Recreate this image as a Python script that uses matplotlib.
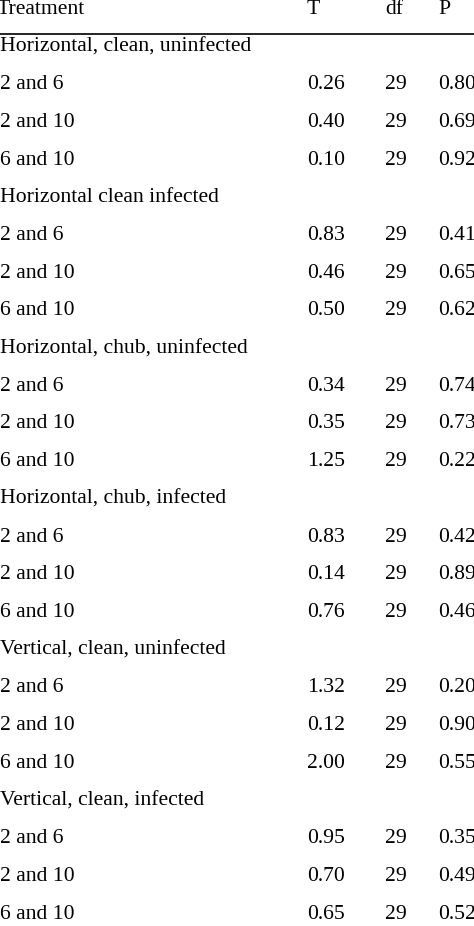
import matplotlib
matplotlib.use("Agg")
import matplotlib.pyplot as plt

W, H = 474, 926
groups = ["Horizontal, clean, uninfected", "Horizontal clean infected",
          "Horizontal, chub, uninfected", "Horizontal, chub, infected",
          "Vertical, clean, uninfected", "Vertical, clean, infected"]
pairs = ["2 and 6", "2 and 10", "6 and 10"]
T = [[0.26, 0.40, 0.10], [0.83, 0.46, 0.50], [0.34, 0.35, 1.25],
     [0.83, 0.14, 0.76], [1.32, 0.12, 2.00], [0.95, 0.70, 0.65]]
df = [[29, 29, 29]] * 6
P = [["0.806", "0.694", "0.922"], ["0.41", "0.651", "0.622"],
     ["0.744", "0.734", "0.222"], ["0.425", "0.890", "0.466"],
     ["0.206", "0.906", "0.553"], ["0.354", "0.492", "0.522"]]

fig = plt.figure(figsize=(W / 100, H / 100), dpi=100)
fs = 15.6
kw = dict(fontsize=fs, family="Liberation Serif", va="center", color="black")

def tx(x, y, s, **k):
    fig.text(x / W, 1 - y / H, s, **kw, **k)

tx(-3, 10, "Treatment")
tx(307, 10, "T")
tx(385, 10, "df")
tx(438, 10, "P")
fig.add_artist(plt.Line2D([0, 1], [1 - 34 / H] * 2, color="black", lw=1.2))

step = 37.7
y = 47
for g in range(6):
    tx(0, y, groups[g])
    for i in range(3):
        y += step
        tx(0, y, pairs[i])
        tx(307, y, f"{T[g][i]:.2f}")
        tx(385, y, str(df[g][i]))
        tx(438, y, P[g][i])
    y += step

fig.savefig("out.png", dpi=100)
